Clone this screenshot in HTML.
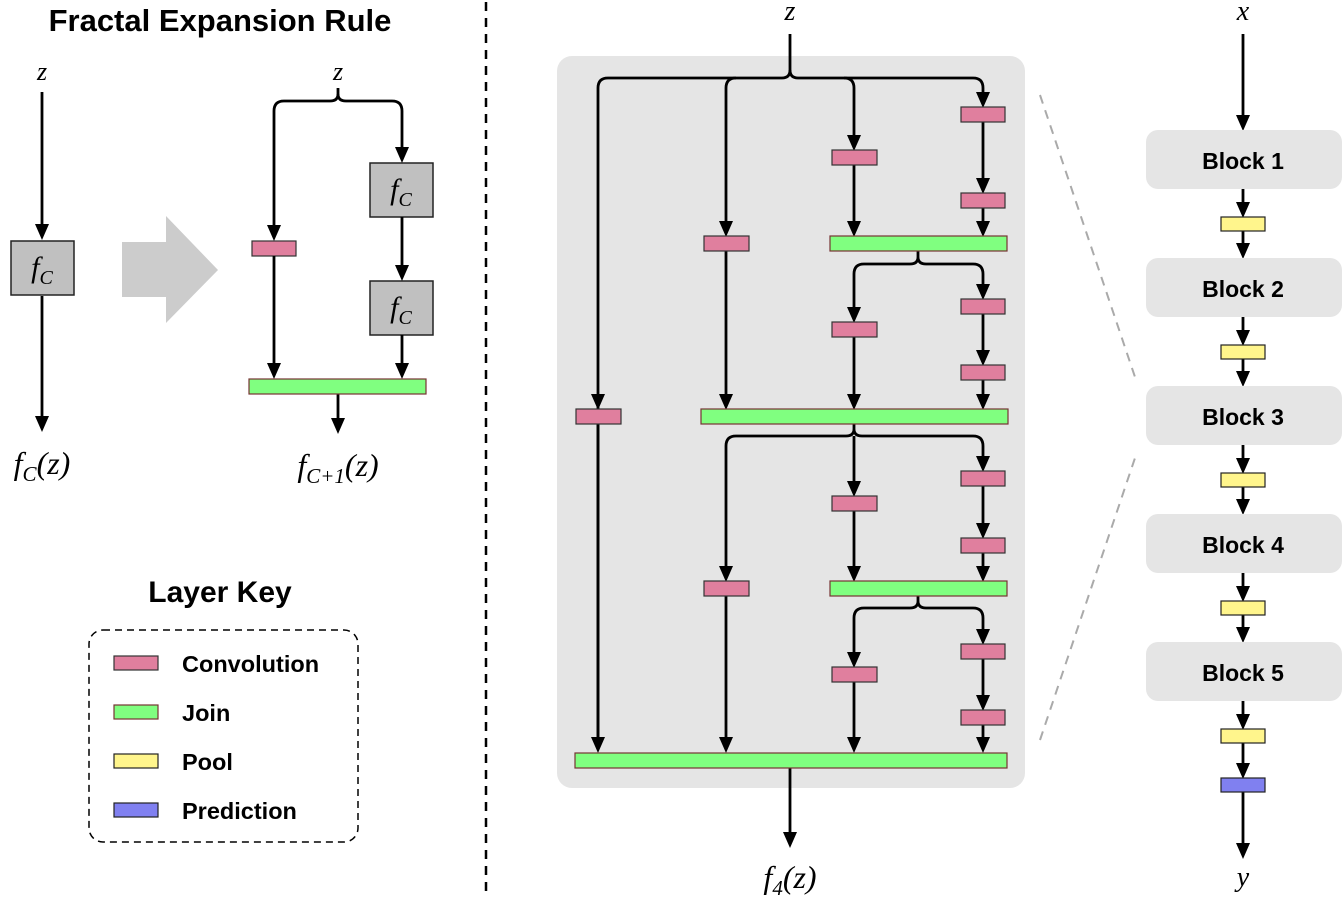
<!DOCTYPE html>
<html><head><meta charset="utf-8"><style>
html,body{margin:0;padding:0;background:#fff;}
svg{display:block;}
.m{font-family:"Liberation Serif",serif;font-style:italic;}
.b{font-family:"Liberation Sans",sans-serif;font-weight:bold;}
</style></head><body>
<svg width="1344" height="897" viewBox="0 0 1344 897" xmlns="http://www.w3.org/2000/svg">
<style>
.l{stroke:#000;stroke-width:2.8;fill:none;}
.c{fill:#e07f9e;stroke:#333;stroke-width:1.2;}
.j{fill:#80ff80;stroke:#733;stroke-width:1.2;}
.p{fill:#fff58c;stroke:#222;stroke-width:1.2;}
.pr{fill:#8080f0;stroke:#222;stroke-width:1.2;}
.f{fill:#c0c0c0;stroke:#222;stroke-width:1.5;}
</style>
<!-- Left section -->
<text x="220" y="31" text-anchor="middle" class="b" font-size="31">Fractal Expansion Rule</text>
<line x1="486" y1="2" x2="486" y2="897" stroke="#000" stroke-width="2.5" stroke-dasharray="9,7"/>
<text x="42" y="80" text-anchor="middle" class="m" font-size="26">z</text>
<path class="l" d="M42,92 V228"/>
<path d="M35,224 h14 l-7,16 z"/>
<rect class="f" x="11" y="241" width="63" height="54"/>
<text x="42" y="277" text-anchor="middle" class="m" font-size="30">f<tspan font-size="20" dy="7">C</tspan></text>
<path class="l" d="M42,296 V420"/>
<path d="M35,416 L49,416 L42,432 Z"/>
<text x="42" y="474" text-anchor="middle" class="m" font-size="32">f<tspan font-size="21" dy="7">C</tspan><tspan dy="-7">(z)</tspan></text>
<polygon points="122,242 166,242 166,216 218,270 166,323 166,297 122,297" fill="#cccccc"/>
<text x="338" y="80" text-anchor="middle" class="m" font-size="26">z</text>
<path class="l" d="M338,88 V94 Q338,101 330,101 H284 Q274,101 274,111 V230"/>
<path class="l" d="M338,94 Q338,101 346,101 H392 Q402,101 402,111 V152"/>
<rect class="c" x="252" y="241" width="44" height="15"/>
<rect class="f" x="370" y="163" width="63" height="54"/>
<text x="401" y="199" text-anchor="middle" class="m" font-size="30">f<tspan font-size="20" dy="7">C</tspan></text>
<rect class="f" x="370" y="281" width="63" height="54"/>
<text x="401" y="317" text-anchor="middle" class="m" font-size="30">f<tspan font-size="20" dy="7">C</tspan></text>
<path class="l" d="M274,256 V368 M402,217 V270 M402,335 V368 M338,394 V420"/>
<g fill="#000">
<path d="M267,225 h14 l-7,16 z"/><path d="M395,147 h14 l-7,16 z"/><path d="M395,265 h14 l-7,16 z"/>
<path d="M267,363 h14 l-7,16 z"/><path d="M395,363 h14 l-7,16 z"/><path d="M331,418 h14 l-7,16 z"/>
</g>
<rect class="j" x="249" y="379" width="177" height="15"/>
<text x="338" y="476" text-anchor="middle" class="m" font-size="32">f<tspan font-size="21" dy="7">C+1</tspan><tspan dy="-7">(z)</tspan></text>
<text x="220" y="602" text-anchor="middle" class="b" font-size="30">Layer Key</text>
<rect x="89" y="630" width="269" height="212" rx="14" fill="none" stroke="#000" stroke-width="1.5" stroke-dasharray="7,5"/>
<rect class="c" x="114" y="656" width="44" height="14"/>
<rect class="j" x="114" y="705" width="44" height="14"/>
<rect class="p" x="114" y="754" width="44" height="14"/>
<rect class="pr" x="114" y="803" width="44" height="14"/>
<g class="b" font-size="23.5">
<text x="182" y="672">Convolution</text>
<text x="182" y="721">Join</text>
<text x="182" y="770">Pool</text>
<text x="182" y="819">Prediction</text>
</g>
<!-- Middle -->
<rect x="557" y="56" width="468" height="732" rx="15" fill="#e5e5e5"/>
<text x="790" y="20" text-anchor="middle" class="m" font-size="28">z</text>
<g class="l">
<path d="M790,34 V70 Q790,78 782,78 H608 Q598,78 598,88 V742"/>
<path d="M790,70 Q790,78 798,78 H973 Q983,78 983,88 V96"/>
<path d="M736,78 Q726,78 726,88 V225 M844,78 Q854,78 854,88 V139"/>
<path d="M983,122 V182 M983,208 V225 M854,165 V225 M726,251 V398 M598,424 V742"/>
<path d="M918,251 V257 Q918,264 910,264 H864 Q854,264 854,274 V311 M918,257 Q918,264 926,264 H973 Q983,264 983,274 V288"/>
<path d="M983,314 V354 M983,380 V398 M854,337 V398"/>
<path d="M854,424 V429 Q854,436 846,436 H736 Q726,436 726,446 V570 M854,429 Q854,436 862,436 H973 Q983,436 983,446 V460 M854,436 V485"/>
<path d="M983,486 V527 M983,553 V570 M854,511 V570 M726,596 V742"/>
<path d="M918,596 V601 Q918,608 910,608 H864 Q854,608 854,618 V656 M918,601 Q918,608 926,608 H973 Q983,608 983,618 V633"/>
<path d="M983,659 V699 M983,725 V742 M854,682 V742 M790,768 V835"/>
</g>
<g fill="#000">
<path d="M591,737 h14 l-7,16 z"/><path d="M591,394 h14 l-7,16 z"/>
<path d="M719,221 h14 l-7,16 z"/><path d="M847,135 h14 l-7,16 z"/><path d="M976,92 h14 l-7,16 z"/>
<path d="M976,178 h14 l-7,16 z"/><path d="M976,221 h14 l-7,16 z"/><path d="M847,221 h14 l-7,16 z"/>
<path d="M847,307 h14 l-7,16 z"/><path d="M976,284 h14 l-7,16 z"/><path d="M976,350 h14 l-7,16 z"/>
<path d="M719,394 h14 l-7,16 z"/><path d="M847,394 h14 l-7,16 z"/><path d="M976,394 h14 l-7,16 z"/>
<path d="M847,481 h14 l-7,16 z"/><path d="M976,456 h14 l-7,16 z"/><path d="M976,523 h14 l-7,16 z"/>
<path d="M976,566 h14 l-7,16 z"/><path d="M847,566 h14 l-7,16 z"/><path d="M719,566 h14 l-7,16 z"/>
<path d="M847,652 h14 l-7,16 z"/><path d="M976,629 h14 l-7,16 z"/><path d="M976,695 h14 l-7,16 z"/>
<path d="M976,737 h14 l-7,16 z"/><path d="M847,737 h14 l-7,16 z"/><path d="M719,737 h14 l-7,16 z"/>
<path d="M783,832 h14 l-7,16 z"/>
</g>
<rect class="c" x="961" y="107" width="44" height="15"/>
<rect class="c" x="961" y="193" width="44" height="15"/>
<rect class="c" x="832" y="150" width="45" height="15"/>
<rect class="c" x="704" y="236" width="45" height="15"/>
<rect class="j" x="830" y="236" width="177" height="15"/>
<rect class="c" x="832" y="322" width="45" height="15"/>
<rect class="c" x="961" y="299" width="44" height="15"/>
<rect class="c" x="961" y="365" width="44" height="15"/>
<rect class="c" x="576" y="409" width="45" height="15"/>
<rect class="j" x="701" y="409" width="307" height="15"/>
<rect class="c" x="961" y="471" width="44" height="15"/>
<rect class="c" x="961" y="538" width="44" height="15"/>
<rect class="c" x="832" y="496" width="45" height="15"/>
<rect class="c" x="704" y="581" width="45" height="15"/>
<rect class="j" x="830" y="581" width="177" height="15"/>
<rect class="c" x="832" y="667" width="45" height="15"/>
<rect class="c" x="961" y="644" width="44" height="15"/>
<rect class="c" x="961" y="710" width="44" height="15"/>
<rect class="j" x="575" y="753" width="432" height="15"/>
<text x="790" y="888" text-anchor="middle" class="m" font-size="32">f<tspan font-size="21" dy="7">4</tspan><tspan dy="-7">(z)</tspan></text>
<line x1="1040" y1="95" x2="1136" y2="380" stroke="#aaa" stroke-width="2" stroke-dasharray="9,7"/>
<line x1="1040" y1="740" x2="1136" y2="455" stroke="#aaa" stroke-width="2" stroke-dasharray="9,7"/>
<!-- Right -->
<text x="1243" y="20" text-anchor="middle" class="m" font-size="28">x</text>
<g class="l">
<path d="M1243,34 V120 M1243,189 V206 M1243,231 V248 M1243,317 V334 M1243,359 V376 M1243,445 V462 M1243,487 V504 M1243,573 V590 M1243,615 V632 M1243,701 V718 M1243,743 V767 M1243,792 V848"/>
</g>
<g fill="#000">
<path d="M1236,115 h14 l-7,16 z"/>
<path d="M1236,202 h14 l-7,16 z"/><path d="M1236,243 h14 l-7,16 z"/>
<path d="M1236,330 h14 l-7,16 z"/><path d="M1236,371 h14 l-7,16 z"/>
<path d="M1236,458 h14 l-7,16 z"/><path d="M1236,499 h14 l-7,16 z"/>
<path d="M1236,586 h14 l-7,16 z"/><path d="M1236,627 h14 l-7,16 z"/>
<path d="M1236,714 h14 l-7,16 z"/><path d="M1236,763 h14 l-7,16 z"/>
<path d="M1236,843 h14 l-7,16 z"/>
</g>
<g fill="#e5e5e5">
<rect x="1146" y="130" width="196" height="59" rx="12"/>
<rect x="1146" y="258" width="196" height="59" rx="12"/>
<rect x="1146" y="386" width="196" height="59" rx="12"/>
<rect x="1146" y="514" width="196" height="59" rx="12"/>
<rect x="1146" y="642" width="196" height="59" rx="12"/>
</g>
<g class="b" font-size="23" text-anchor="middle">
<text x="1243" y="169">Block 1</text>
<text x="1243" y="297">Block 2</text>
<text x="1243" y="425">Block 3</text>
<text x="1243" y="553">Block 4</text>
<text x="1243" y="681">Block 5</text>
</g>
<rect class="p" x="1221" y="217" width="44" height="14"/>
<rect class="p" x="1221" y="345" width="44" height="14"/>
<rect class="p" x="1221" y="473" width="44" height="14"/>
<rect class="p" x="1221" y="601" width="44" height="14"/>
<rect class="p" x="1221" y="729" width="44" height="14"/>
<rect class="pr" x="1221" y="778" width="44" height="14"/>
<text x="1243" y="886" text-anchor="middle" class="m" font-size="28">y</text>
</svg>
</body></html>
